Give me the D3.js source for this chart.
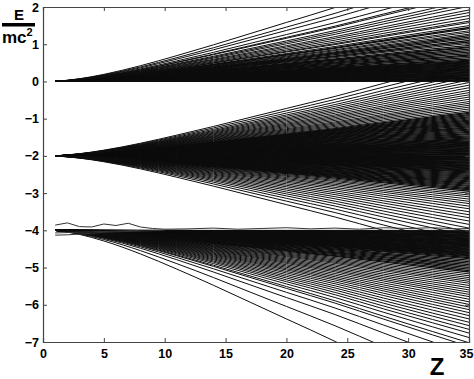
<!DOCTYPE html>
<html><head><meta charset="utf-8">
<script src="https://cdn.jsdelivr.net/npm/d3@7"></script>
<style>
html,body{margin:0;padding:0;background:#fff;}
svg{display:block;font-family:"Liberation Sans",Arial,Helvetica,sans-serif;font-weight:bold;}
</style></head><body>
<script>
// ---- data ----
const xTicks = [0, 5, 10, 15, 20, 25, 30, 35];
const yTicks = [2, 1, 0, -1, -2, -3, -4, -5, -6, -7];
const yTickLabels = ["2", "1", "0", "\u22121", "\u22122", "\u22123", "\u22124", "\u22125", "\u22126", "\u22127"];

const zNodes  = [1, 3, 5, 8, 11, 14, 17, 20, 24, 28, 32, 35];
const profile = [0, 0.023, 0.06, 0.133, 0.219, 0.31, 0.405, 0.5, 0.627, 0.765, 0.9, 1];

// band levels and the spread of each line at Z = 35 (E/mc^2 relative to its band)
const upperBase = 0;
const upperEnds = [3.17, 2.92, 2.74, 2.52, 2.37, 2.32, 2.18, 2.1, 2.02, 1.92, 1.85, 1.77, 1.69, 1.62, 1.58, 1.5, 1.45, 1.42, 1.36, 1.32, 1.27, 1.23, 1.19, 1.15, 1.1, 1.06, 1.02, 0.97, 0.93, 0.91, 0.87, 0.83, 0.79, 0.75, 0.71, 0.68, 0.64, 0.6, 0.57,
  0.545, 0.525, 0.505, 0.485, 0.465, 0.445, 0.425, 0.405, 0.385, 0.365, 0.345, 0.325, 0.305, 0.285, 0.265, 0.245, 0.225, 0.205, 0.185, 0.165, 0.145, 0.125, 0.105, 0.085, 0.065, 0.045, 0.03, 0.015, 0.0];

const middleBase = -2;
const middleEnds = [2.55, 2.42, 2.3, 2.2, 2.12, 2.04, 1.97, 1.9, 1.83, 1.76, 1.7, 1.64, 1.58, 1.52, 1.46, 1.41, 1.36, 1.31, 1.26, 1.21, 1.17,
  1.14, 1.11, 1.08, 1.05, 1.02, 0.99, 0.96, 0.93, 0.9, 0.87, 0.84, 0.81, 0.78, 0.75, 0.72, 0.69, 0.66, 0.63, 0.6, 0.57, 0.54, 0.51, 0.48, 0.455, 0.43, 0.405, 0.38,
  0.36, 0.34, 0.32, 0.3, 0.28, 0.26, 0.24, 0.22, 0.2, 0.18, 0.16, 0.14, 0.12, 0.1, 0.08, 0.06, 0.04, 0.02, 0.0, -0.02, -0.04, -0.06, -0.08, -0.1, -0.12, -0.14, -0.16, -0.18, -0.2, -0.22, -0.24, -0.26, -0.28, -0.3, -0.32, -0.34, -0.36, -0.38,
  -0.405, -0.43, -0.46, -0.49, -0.52, -0.55, -0.58, -0.61, -0.64, -0.67, -0.7, -0.73, -0.76, -0.79, -0.82, -0.85, -0.88, -0.91,
  -0.95, -1.0, -1.05, -1.1, -1.16, -1.22, -1.28, -1.35, -1.42, -1.5, -1.58, -1.66, -1.75, -1.84, -1.94, -2.04, -2.15, -2.28, -2.43, -2.62];

const lowerBase = -4;
const lowerEnds = [0, -0.02, -0.04, -0.06, -0.08, -0.1, -0.12, -0.14, -0.16, -0.18, -0.2, -0.22, -0.24, -0.26, -0.28, -0.3, -0.32, -0.34, -0.36, -0.38, -0.4, -0.42, -0.44, -0.46, -0.48, -0.5, -0.52, -0.54, -0.56, -0.58, -0.6, -0.62, -0.64, -0.66, -0.68, -0.7,
  -0.73, -0.76, -0.8, -0.84, -0.88, -0.92, -0.96, -1.0, -1.04, -1.08, -1.12, -1.17, -1.22, -1.27, -1.32, -1.37, -1.42, -1.48, -1.54, -1.6, -1.66, -1.72, -1.78, -1.85, -1.92, -1.99, -2.06, -2.13, -2.21, -2.29, -2.38, -2.47, -2.56, -2.66, -2.76, -2.88,
  -3.02, -3.12, -3.33, -3.61, -4.09, -4.76];

// irregular lines around E = -4
const zigZ = [1, 2, 3, 4, 5, 6, 7, 8, 9, 10, 12, 14, 16, 18, 20, 22, 24, 26, 28, 30, 32, 34, 35];
const zigE = [-3.86, -3.80, -3.90, -3.91, -3.83, -3.87, -3.81, -3.91, -3.95, -3.97, -3.96, -3.94, -3.97, -3.95, -3.93, -3.96, -3.94, -3.97, -3.93, -3.95, -3.93, -3.96, -3.95];
const zig2Z = [1, 2, 3, 4, 5, 6, 8, 10];
const zig2E = [-4.13, -4.12, -4.1, -4.08, -4.05, -4.04, -4.02, -4.0];
const zig3Z = [1, 2, 3, 4, 6, 8];
const zig3E = [-4.07, -4.06, -4.05, -4.04, -4.02, -4.0];

// ---- drawing ----
const W = 474, H = 379;
const svg = d3.select("body").append("svg").attr("width", W).attr("height", H);
const x = d3.scaleLinear().domain([0, 35]).range([43, 469]);
const y = d3.scaleLinear().domain([-7, 2]).range([342, 7]);

svg.append("clipPath").attr("id", "clip").append("rect")
  .attr("x", x(0)).attr("y", y(2)).attr("width", x(35) - x(0)).attr("height", y(-7) - y(2));

const line = d3.line().x(d => x(d[0])).y(d => y(d[1])).curve(d3.curveMonotoneX);
const plot = svg.append("g").attr("clip-path", "url(#clip)");
const lineCol = "#0d0d0d";

function drawBand(base, ends) {
  plot.append("g").selectAll("path").data(ends).join("path")
    .attr("d", v => line(zNodes.map((z, i) => [z, base + v * profile[i]])))
    .attr("fill", "none").attr("stroke", lineCol)
    .attr("stroke-width", (v, i) => (i > 0 && i < ends.length - 1 && Math.abs(ends[i - 1] - ends[i + 1]) < 0.09) ? 1.3 : 1.0);
}
drawBand(upperBase, upperEnds);
drawBand(middleBase, middleEnds);
drawBand(lowerBase, lowerEnds);

const straight = d3.line().x(d => x(d[0])).y(d => y(d[1]));
[[zigZ, zigE], [zig2Z, zig2E], [zig3Z, zig3E]].forEach(([zs, es]) => {
  plot.append("path").attr("d", straight(zs.map((z, i) => [z, es[i]])))
    .attr("fill", "none").attr("stroke", "#333").attr("stroke-width", 1);
});

// axes (box with inward ticks)
const axCol = "#444";
const gx = svg.append("g").attr("transform", `translate(0,${y(-7)})`)
  .call(d3.axisBottom(x).tickValues(xTicks).tickSize(-4).tickPadding(7).tickFormat(d3.format("d")));
const gxt = svg.append("g").attr("transform", `translate(0,${y(2)})`)
  .call(d3.axisTop(x).tickValues(xTicks).tickSize(-4).tickFormat(""));
const gy = svg.append("g").attr("transform", `translate(${x(0)},0)`)
  .call(d3.axisLeft(y).tickValues(yTicks).tickSize(-4).tickPadding(4).tickFormat((d, i) => yTickLabels[i]));
const gyr = svg.append("g").attr("transform", `translate(${x(35)},0)`)
  .call(d3.axisRight(y).tickValues(yTicks).tickSize(-4).tickFormat(""));
[gx, gxt, gy, gyr].forEach(g => {
  g.select(".domain").attr("stroke", axCol).attr("stroke-width", 1.2);
  g.selectAll(".tick line").attr("stroke", axCol);
  g.selectAll("text").attr("fill", "#000").style("font-size", "12.5px").style("font-weight", "bold")
    .style("font-family", "'Liberation Sans',Arial,sans-serif");
});
gx.selectAll(".tick text").filter(d => d === 35).attr("dx", -3);

// axis titles
svg.append("text").attr("x", 19).attr("y", 20).attr("text-anchor", "middle")
  .style("font-size", "15px").text("E");
svg.append("rect").attr("x", 2).attr("y", 23).attr("width", 33).attr("height", 3.5).attr("fill", "#000");
const mc = svg.append("text").attr("x", 2).attr("y", 43).style("font-size", "17px");
mc.append("tspan").text("mc");
mc.append("tspan").attr("dy", -7).style("font-size", "11px").text("2");

svg.append("text").attr("x", 437).attr("y", 375).attr("text-anchor", "middle")
  .style("font-size", "24px").text("Z");
</script>
</body></html>
